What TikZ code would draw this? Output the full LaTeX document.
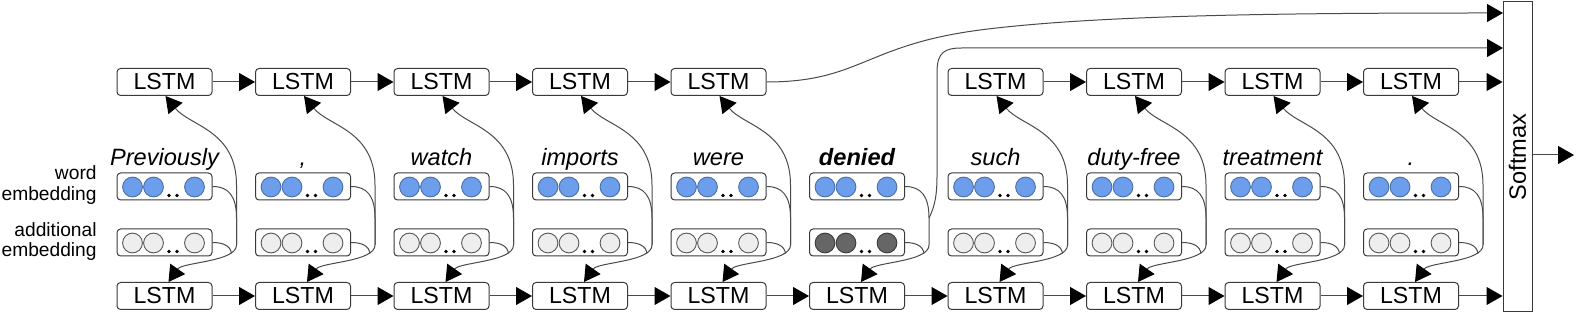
\documentclass[tikz,border=0pt]{standalone}
\usepackage{fontspec}
\setmainfont{Liberation Sans}
\usetikzlibrary{arrows.meta,calc}
\definecolor{bluec}{HTML}{6D9EEB}
\definecolor{bluedraw}{HTML}{4A6FA5}
\definecolor{lgray}{HTML}{EEEEEE}
\definecolor{dgray}{HTML}{666666}
\definecolor{boxc}{HTML}{3A3A3A}
\definecolor{linec}{HTML}{4A4A4A}
\begin{document}
\begin{tikzpicture}[x=0.5pt,y=-0.5pt,
  box/.style={draw=boxc, line width=0.5pt, rounded corners=1.8pt, minimum width=47.5pt, inner sep=0pt},
  lstm/.style={box, minimum height=13.5pt, font=\fontsize{11.6}{13}\selectfont},
  embbox/.style={box, minimum height=13.5pt},
  conn/.style={draw=linec, line width=0.5pt},
  arr/.style={conn, -{Triangle[length=8pt,width=9pt,color=black]}},
  wordlbl/.style={font=\fontsize{11.8}{13}\selectfont\itshape, anchor=base},
  sidelbl/.style={font=\fontsize{9.6}{10.2}\selectfont, align=right, anchor=east, inner sep=0pt},
  bdot/.style={fill=bluec, draw=bluedraw, line width=0.45pt},
  gdot/.style={fill=lgray, draw=dgray!85!black, line width=0.45pt},
  ddot/.style={fill=dgray, draw=boxc, line width=0.45pt},
]
\useasboundingbox (0,0) rectangle (1578,314);

% side labels
\node[sidelbl] (lw) at (97,185) {word\\embedding};
\node[sidelbl] (la) at (97,241.7) {additional\\embedding};

% softmax
\node[draw=boxc, line width=0.5pt, minimum width=14.5pt, minimum height=155pt, inner sep=0pt] (sm) at (1517.5,157) {};
\node[rotate=90, font=\fontsize{11.8}{13}\selectfont] (smt) at (sm.center) {Softmax};
\coordinate (s1) at (1503,13);
\coordinate (s2) at (1503,48);
\coordinate (out) at (1574,155);

% words
\foreach \i/\w in {1/Previously,2/{,},3/watch,4/imports,5/were,6/\textbf{denied},7/such,8/duty-free,9/treatment,10/.}{
  \pgfmathsetmacro\cx{164.5+(\i-1)*138.5}
  \node[wordlbl] (w\i) at (\cx,166) {\w};
}

% columns
\foreach \i in {1,...,10}{
  \pgfmathsetmacro\cx{164.5+(\i-1)*138.5}
  \node[embbox] (we\i) at (\cx,186.5) {};
  \node[embbox] (ae\i) at (\cx,242.5) {};
  \node[lstm] (bot\i) at (\cx,296) {LSTM};
  \foreach \dx in {-32,-11,30}{
    \draw[bdot] (\cx+\dx,187) circle[radius=4.95pt];
    \ifnum\i=6
      \draw[ddot] (\cx+\dx,243) circle[radius=4.95pt];
    \else
      \draw[gdot] (\cx+\dx,243) circle[radius=4.95pt];
    \fi
  }
  \fill[black] (\cx+4.5,195.5) circle[radius=0.9pt] (\cx+12.5,195.5) circle[radius=0.9pt];
  \fill[black] (\cx+4.5,251.5) circle[radius=0.9pt] (\cx+12.5,251.5) circle[radius=0.9pt];
  % word embedding into spine
  \draw[conn] (we\i.east) .. controls +(16,0) and (\cx+72,196) .. (\cx+72,218) -- (\cx+72,245);
  % additional embedding into curve
  \draw[conn] (ae\i.east) .. controls (\cx+59,242.5) and (\cx+66,246) .. (\cx+67,253.5);
  % down to backward LSTM
  \draw[arr] (\cx+72,245) .. controls (\cx+72,262) and (\cx+18,262) .. ([xshift=2pt]bot\i.north);
}

% top LSTMs
\foreach \i in {1,2,3,4,5,7,8,9,10}{
  \pgfmathsetmacro\cx{164.5+(\i-1)*138.5}
  \node[lstm] (top\i) at (\cx,82) {LSTM};
  \draw[arr] (\cx+72,245) -- (\cx+72,185) .. controls (\cx+72,130) and (\cx+25,126) .. ([xshift=0.5pt]top\i.south);
}

% horizontal chains
\foreach \a/\b in {1/2,2/3,3/4,4/5,7/8,8/9,9/10}{
  \draw[arr] (top\a) -- (top\b);
}
\foreach \a/\b in {1/2,2/3,3/4,4/5,5/6,6/7,7/8,8/9,9/10}{
  \draw[arr] (bot\a) -- (bot\b);
}

% to softmax
\draw[arr] (top5.east) .. controls (860,82) and (865,45) .. (980,30) .. controls (1100,14.5) and (1300,13) .. (s1);
\draw[arr] (929,218) .. controls (935,206) and (937,195) .. (937,175) -- (937,72) .. controls (937,52) and (945,48) .. (962,48) -- (s2);
\draw[arr] (top10) -- (sm.west |- top10);
\draw[arr] (bot10) -- (sm.west |- bot10);
\draw[arr] (sm.east |- out) -- (out);
\end{tikzpicture}
\end{document}
